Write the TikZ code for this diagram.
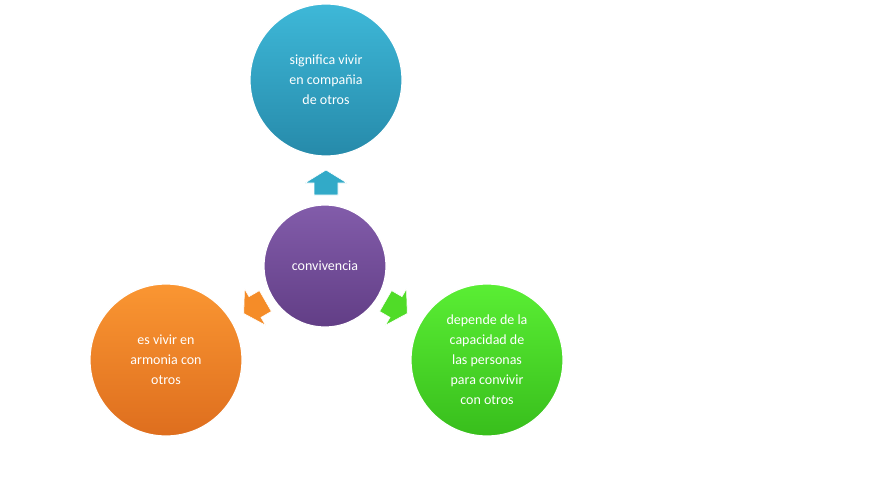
\documentclass[tikz,border=0pt]{standalone}
\usepackage{fontspec}
\setmainfont{Carlito}
\definecolor{cA}{RGB}{62,184,216}\definecolor{cB}{RGB}{38,138,170}
\definecolor{pA}{RGB}{130,92,170}\definecolor{pB}{RGB}{98,62,134}
\definecolor{oA}{RGB}{250,150,50}\definecolor{oB}{RGB}{222,110,30}
\definecolor{gA}{RGB}{90,238,52}\definecolor{gB}{RGB}{56,190,28}
\definecolor{cM}{RGB}{50,170,200}\definecolor{oM}{RGB}{245,140,40}\definecolor{gM}{RGB}{80,220,40}
\begin{document}
\begin{tikzpicture}[x=1pt,y=-1pt,
 circ/.style={circle,minimum size=#1,draw=white,line width=1.2pt,text=white,align=center,font=\fontsize{14}{20}\selectfont},
 blk/.style={fill=#1,draw=white,line width=0.6pt}]
\useasboundingbox (0,0) rectangle (874,501);
\node[circ=152pt,top color=cA,bottom color=cB] (top) at (326,80) {significa vivir\\en compañia\\de otros};
\node[circ=122pt,top color=pA,bottom color=pB] (mid) at (325,266) {convivencia};
\node[circ=152pt,top color=oA,bottom color=oB] (left) at (166,360) {es vivir en\\armonia con\\otros};
\node[circ=152pt,top color=gA,bottom color=gB] (right) at (487,360) {depende de la\\capacidad de\\las personas\\para convivir\\con otros};
\foreach \px/\py/\a/\c in {326/183/90/cM,255/307/210/oM,396/307/-30/gM}{
 \begin{scope}[shift={(\px,\py)},rotate=\a]
  \filldraw[blk=\c] (-12,-12)--(0,-12)--(0,-21)--(13,0)--(0,21)--(0,12)--(-12,12)--cycle;
 \end{scope}}
\end{tikzpicture}
\end{document}
